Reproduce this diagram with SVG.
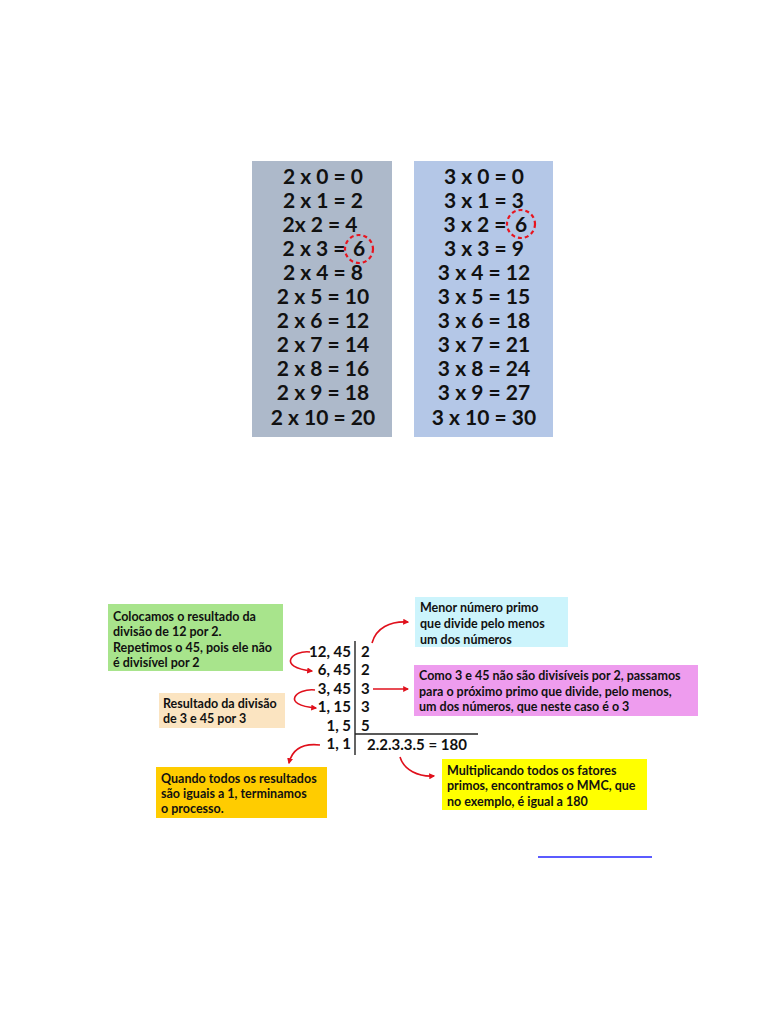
<svg xmlns="http://www.w3.org/2000/svg" width="768" height="1024" viewBox="0 0 768 1024">
<style>
.t{font-family:Lato,"Open Sans","Liberation Sans",sans-serif;font-weight:bold;fill:#111}
.tab{font-size:21px;text-anchor:middle}
.num{font-size:15px}
.box{font-size:12.5px}
.arr{fill:none;stroke:#e0101c;stroke-width:1.6}
.ring{fill:none;stroke:#e8141e;stroke-width:2.2;stroke-dasharray:4 3}
.rule{stroke:#222;stroke-width:1.4}
</style>
<defs>
<marker id="ah" viewBox="0 0 10 10" refX="8" refY="5" markerWidth="6" markerHeight="6" markerUnits="userSpaceOnUse" orient="auto">
<path d="M0,0 L10,5 L0,10 z" fill="#e0101c"/>
</marker>
</defs>
<rect width="768" height="1024" fill="#fff"/>

<g id="table2">
<rect x="252" y="161" width="140" height="276" fill="#adb9ca"/>
<g class="t tab">
<text x="323" y="183.5">2 x 0 = 0</text>
<text x="323" y="207.5">2 x 1 = 2</text>
<text x="320" y="231.5">2x 2 = 4</text>
<text x="314" y="255.5">2 x 3 = </text>
<text x="359" y="255.5">6</text>
<text x="323" y="279.5">2 x 4 = 8</text>
<text x="323" y="303.5">2 x 5 = 10</text>
<text x="323" y="328">2 x 6 = 12</text>
<text x="323" y="352">2 x 7 = 14</text>
<text x="323" y="376">2 x 8 = 16</text>
<text x="323" y="400">2 x 9 = 18</text>
<text x="323" y="424.5">2 x 10 = 20</text>
</g>
<circle class="ring" cx="359" cy="249" r="14"/>
</g>

<g id="table3">
<rect x="414" y="161" width="139" height="276" fill="#b4c7e7"/>
<g class="t tab">
<text x="484" y="183.5">3 x 0 = 0</text>
<text x="484" y="207.5">3 x 1 = 3</text>
<text x="475" y="231.5">3 x 2 = </text>
<text x="521" y="231.5">6</text>
<text x="484" y="255.5">3 x 3 = 9</text>
<text x="484" y="279.5">3 x 4 = 12</text>
<text x="484" y="303.5">3 x 5 = 15</text>
<text x="484" y="328">3 x 6 = 18</text>
<text x="484" y="352">3 x 7 = 21</text>
<text x="484" y="376">3 x 8 = 24</text>
<text x="484" y="400">3 x 9 = 27</text>
<text x="484" y="424.5">3 x 10 = 30</text>
</g>
<circle class="ring" cx="521" cy="224" r="14"/>
</g>

<g id="factorization">
<line class="rule" x1="355" y1="641" x2="355" y2="755"/>
<line class="rule" x1="355" y1="734" x2="478" y2="734"/>
<g class="t num" text-anchor="end">
<text x="351" y="657">12, 45</text>
<text x="351" y="675">6, 45</text>
<text x="351" y="694">3, 45</text>
<text x="351" y="712">1, 15</text>
<text x="351" y="731">1, 5</text>
<text x="351" y="749">1, 1</text>
</g>
<g class="t num">
<text x="361" y="657">2</text>
<text x="361" y="675">2</text>
<text x="361" y="694">3</text>
<text x="361" y="712">3</text>
<text x="361" y="731">5</text>
<text x="367" y="750">2.2.3.3.5 = 180</text>
</g>
</g>

<g id="note-green">
<rect x="108" y="604" width="175" height="67" fill="#a8e48c"/>
<g class="t box">
<text x="113" y="620.5">Colocamos o resultado da</text>
<text x="113" y="636">divisão de 12 por 2.</text>
<text x="113" y="651.5">Repetimos o 45, pois ele não</text>
<text x="113" y="667">é divisível por 2</text>
</g>
</g>

<g id="note-tan">
<rect x="159" y="693" width="126" height="35" fill="#fbe4c1"/>
<g class="t box">
<text x="163" y="707.5">Resultado da divisão</text>
<text x="163" y="722.5">de 3 e 45 por 3</text>
</g>
</g>

<g id="note-cyan">
<rect x="415" y="597" width="153" height="50" fill="#ccf4fc"/>
<g class="t box">
<text x="420" y="611.5">Menor número primo</text>
<text x="420" y="627.5">que divide pelo menos</text>
<text x="420" y="643.5">um dos números</text>
</g>
</g>

<g id="note-purple">
<rect x="414" y="665" width="284" height="51" fill="#ee9cee"/>
<g class="t box">
<text x="419" y="679.5">Como 3 e 45 não são divisíveis por 2, passamos</text>
<text x="419" y="695.5">para o próximo primo que divide, pelo menos,</text>
<text x="419" y="710.5">um dos números, que neste caso é o 3</text>
</g>
</g>

<g id="note-gold">
<rect x="156" y="767" width="171" height="51" fill="#ffcc00"/>
<g class="t box">
<text x="161" y="782.5">Quando todos os resultados</text>
<text x="161" y="797.5">são  iguais a 1, terminamos</text>
<text x="161" y="812.5">o processo.</text>
</g>
</g>

<g id="note-yellow">
<rect x="442" y="759" width="205" height="51" fill="#ffff00"/>
<g class="t box">
<text x="447" y="774.5">Multiplicando todos os fatores</text>
<text x="447" y="789.5">primos, encontramos o MMC, que</text>
<text x="447" y="805.5">no exemplo, é igual a 180</text>
</g>
</g>

<g id="connectors">
<path class="arr" marker-end="url(#ah)" d="M310,652 C292,650 276,667 312,671"/>
<path class="arr" marker-end="url(#ah)" d="M315,690 C296,688 280,705 316,708"/>
<path class="arr" marker-end="url(#ah)" d="M320,745 C302,743 292,750 289,763"/>
<path class="arr" marker-end="url(#ah)" d="M372,643 C376,628 390,621 408,622"/>
<path class="arr" marker-end="url(#ah)" d="M373,689 L408,689"/>
<path class="arr" marker-end="url(#ah)" d="M400,757 C404,770 418,777 434,776"/>
</g>

<line x1="538" y1="857" x2="652" y2="857" stroke="#5b5bff" stroke-width="2"/>
</svg>
